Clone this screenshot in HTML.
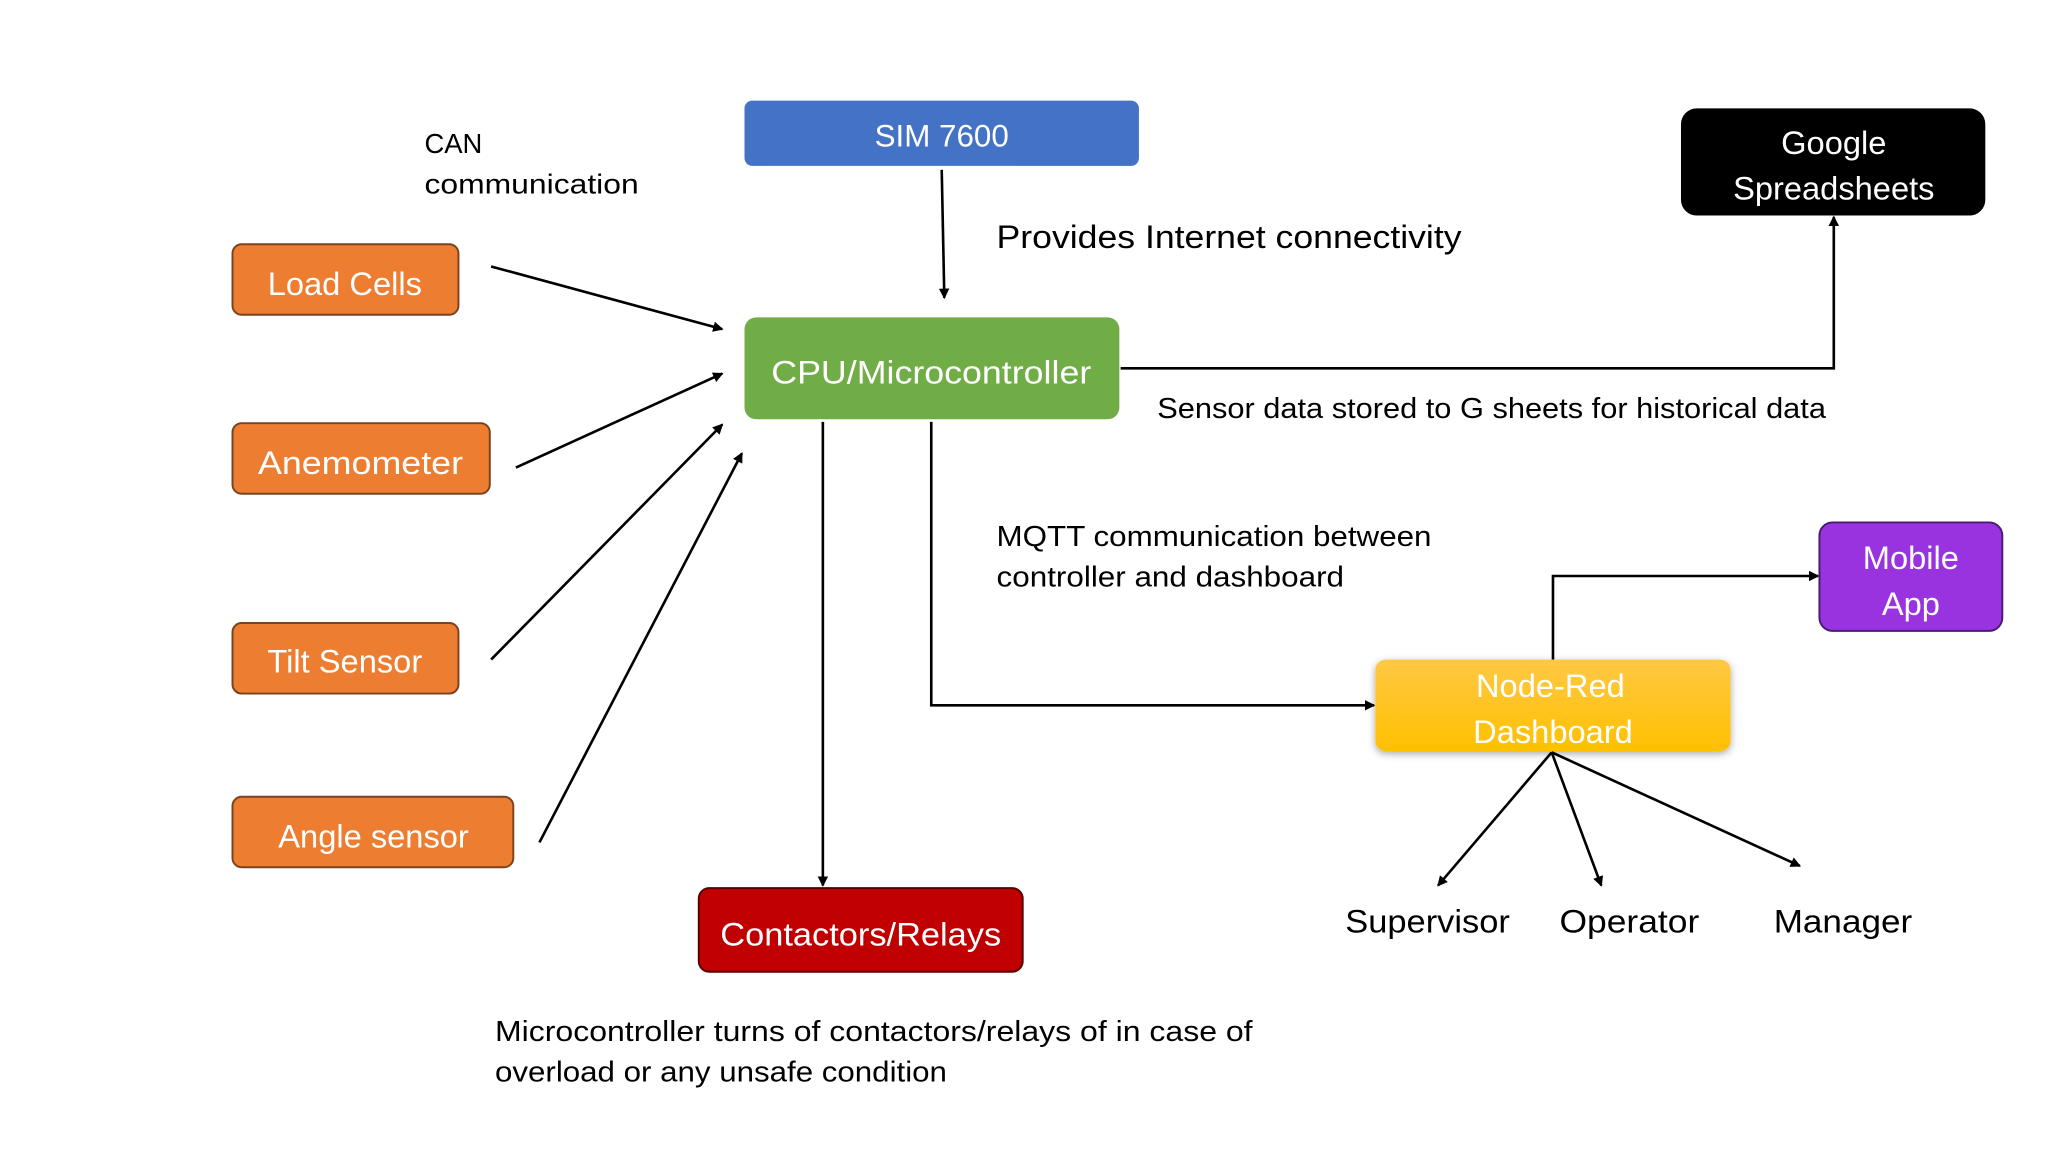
<!DOCTYPE html>
<html><head><meta charset="utf-8"><style>
html,body{margin:0;padding:0;background:#fff;width:2048px;height:1152px;overflow:hidden}
svg text{font-family:"Liberation Sans",sans-serif;dominant-baseline:central}
</style></head><body>
<svg width="2048" height="1152" viewBox="0 0 1568 882" xmlns="http://www.w3.org/2000/svg">
<defs>
<marker id="a" markerWidth="8" markerHeight="8" refX="7" refY="4" orient="auto" markerUnits="userSpaceOnUse"><path d="M0,0 L8,4 L0,8 z" fill="#000"/></marker>
<linearGradient id="y" x1="0" y1="0" x2="0" y2="1"><stop offset="0" stop-color="#FFC845"/><stop offset="1" stop-color="#FFC000"/></linearGradient>
<filter id="s" x="-10%" y="-20%" width="120%" height="150%"><feDropShadow dx="0" dy="2" stdDeviation="3" flood-color="#000" flood-opacity="0.35"/></filter>
</defs>
<g fill="none" stroke="#000" stroke-width="2" marker-end="url(#a)">
<line x1="376" y1="204" x2="553" y2="252"/>
<line x1="395" y1="358" x2="553" y2="286"/>
<line x1="376" y1="505" x2="553" y2="325"/>
<line x1="413" y1="645" x2="568" y2="347"/>
<line x1="721" y1="130" x2="723" y2="228"/>
<polyline points="858,282 1404,282 1404,166"/>
<line x1="630" y1="323" x2="630" y2="678"/>
<polyline points="713,323 713,540 1052,540"/>
<polyline points="1189,505 1189,441 1392,441"/>
<line x1="1188" y1="576" x2="1101" y2="678"/>
<line x1="1188" y1="576" x2="1226" y2="678"/>
<line x1="1188" y1="576" x2="1378" y2="663"/>
</g>
<rect x="570" y="77" width="302" height="50" rx="6" fill="#4472C4"/>
<text x="721" y="104" fill="#fff" font-size="24" text-anchor="middle">SIM 7600</text>
<rect x="1287" y="83" width="233" height="82" rx="12" fill="#000"/>
<text x="1404" y="109" fill="#fff" font-size="25" text-anchor="middle">Google</text>
<text x="1404" y="144" fill="#fff" font-size="25" text-anchor="middle">Spreadsheets</text>
<rect x="570" y="243" width="287" height="78" rx="9" fill="#70AD47"/>
<text x="713" y="285" fill="#fff" font-size="25" text-anchor="middle" textLength="245" lengthAdjust="spacingAndGlyphs">CPU/Microcontroller</text>
<g fill="#ED7D31" stroke="#7a4320" stroke-width="1.5">
<rect x="178" y="187" width="173" height="54" rx="7"/>
<rect x="178" y="324" width="197" height="54" rx="7"/>
<rect x="178" y="477" width="173" height="54" rx="7"/>
<rect x="178" y="610" width="215" height="54" rx="7"/>
</g>
<g fill="#fff" font-size="25" text-anchor="middle">
<text x="264" y="217">Load Cells</text>
<text x="276" y="354" textLength="157" lengthAdjust="spacingAndGlyphs">Anemometer</text>
<text x="264" y="506">Tilt Sensor</text>
<text x="286" y="640">Angle sensor</text>
</g>
<rect x="535" y="680" width="248" height="64" rx="8" fill="#C00000" stroke="#5a0000" stroke-width="1.5"/>
<text x="659" y="715" fill="#fff" font-size="25" text-anchor="middle" textLength="215" lengthAdjust="spacingAndGlyphs">Contactors/Relays</text>
<rect x="1053" y="505" width="272" height="70" rx="8" fill="url(#y)" filter="url(#s)"/>
<text x="1187" y="525" fill="#fff" font-size="25" text-anchor="middle">Node-Red</text>
<text x="1189" y="560" fill="#fff" font-size="25" text-anchor="middle">Dashboard</text>
<rect x="1393" y="400" width="140" height="83" rx="10" fill="#9933E0" stroke="#4a1a70" stroke-width="1.5"/>
<text x="1463" y="427" fill="#fff" font-size="25" text-anchor="middle">Mobile</text>
<text x="1463" y="462" fill="#fff" font-size="25" text-anchor="middle">App</text>
<g fill="#000">
<text x="325" y="110" font-size="21">CAN</text>
<text x="325" y="141" font-size="21" textLength="164" lengthAdjust="spacingAndGlyphs">communication</text>
<text x="763" y="181" font-size="25" textLength="356" lengthAdjust="spacingAndGlyphs">Provides Internet connectivity</text>
<text x="886" y="313" font-size="22" textLength="512" lengthAdjust="spacingAndGlyphs">Sensor data stored to G sheets for historical data</text>
<text x="763" y="411" font-size="22" textLength="333" lengthAdjust="spacingAndGlyphs">MQTT communication between</text>
<text x="763" y="442" font-size="22" textLength="266" lengthAdjust="spacingAndGlyphs">controller and dashboard</text>
<text x="1030" y="705" font-size="25" textLength="126" lengthAdjust="spacingAndGlyphs">Supervisor</text>
<text x="1194" y="705" font-size="25" textLength="107" lengthAdjust="spacingAndGlyphs">Operator</text>
<text x="1358" y="705" font-size="25" textLength="106" lengthAdjust="spacingAndGlyphs">Manager</text>
<text x="379" y="790" font-size="22" textLength="580" lengthAdjust="spacingAndGlyphs">Microcontroller turns of contactors/relays of  in case of</text>
<text x="379" y="821" font-size="22" textLength="346" lengthAdjust="spacingAndGlyphs">overload or any unsafe condition</text>
</g>
</svg>
</body></html>
